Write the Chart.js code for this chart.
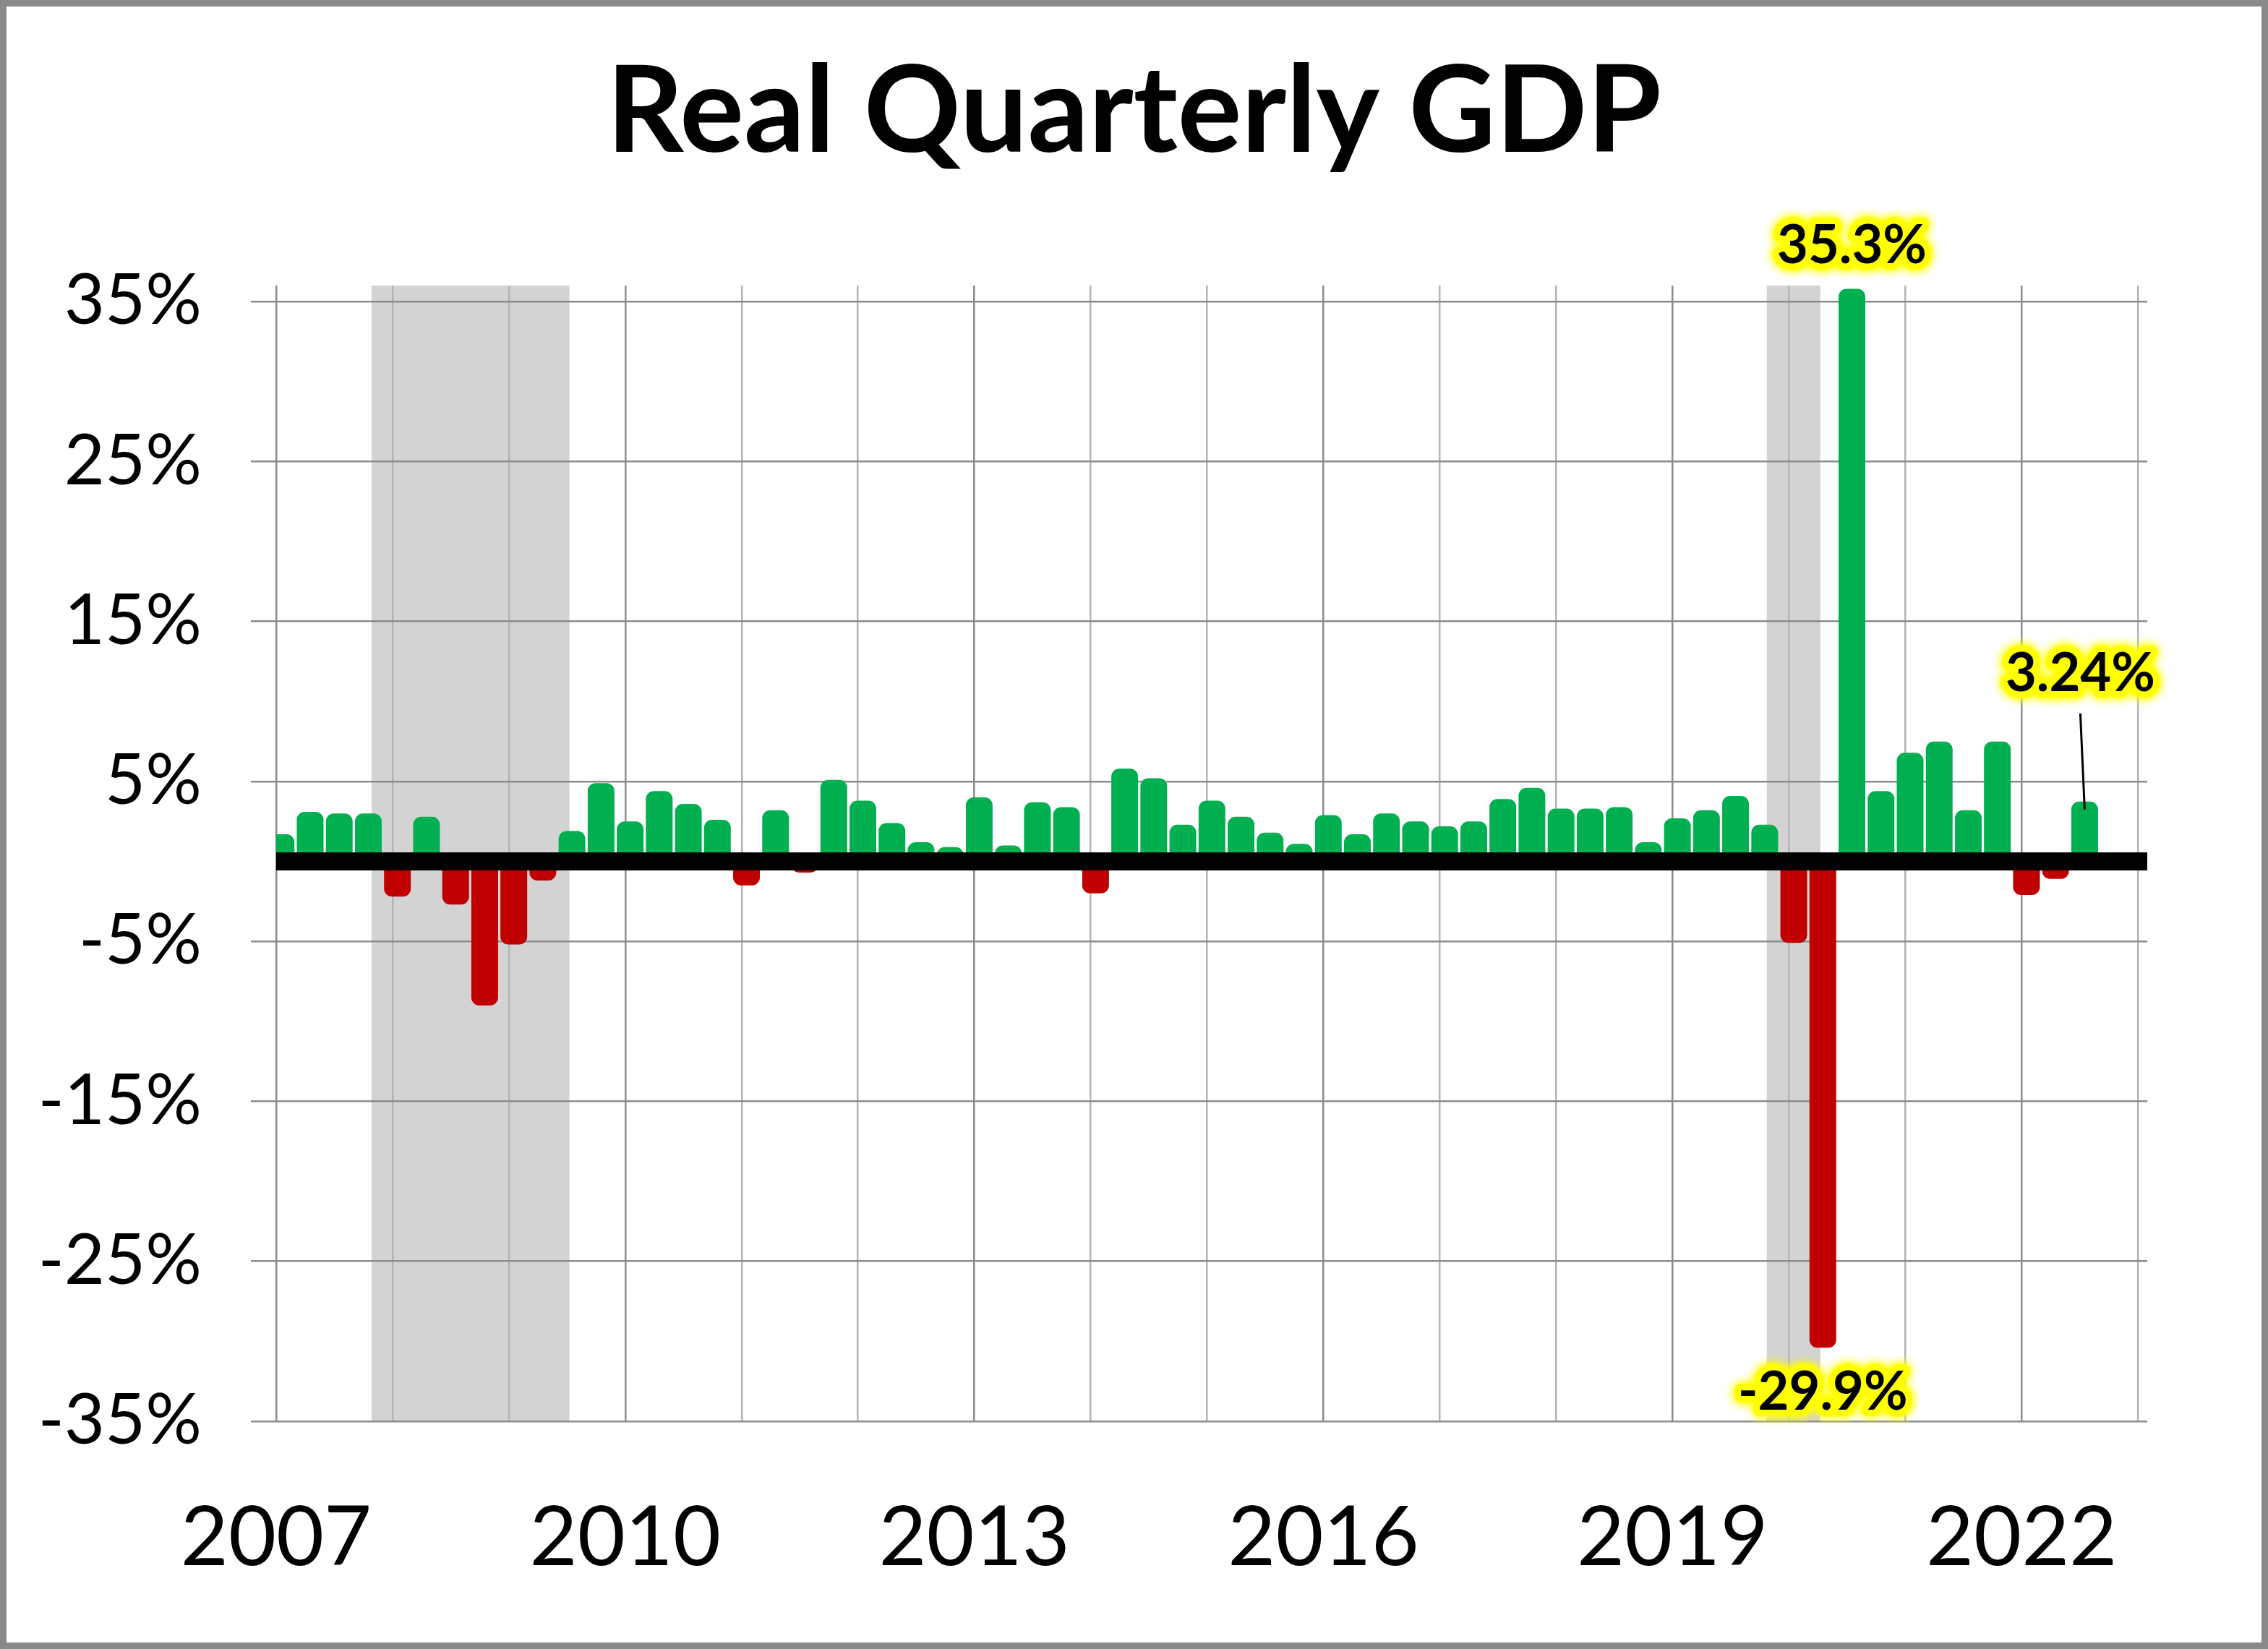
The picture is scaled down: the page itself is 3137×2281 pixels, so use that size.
<!DOCTYPE html>
<html>
<head>
<meta charset="utf-8">
<title>Real Quarterly GDP</title>
<script src="https://cdn.jsdelivr.net/npm/chart.js@4.4.1/dist/chart.umd.min.js"></script>
<style>
  html, body { margin: 0; padding: 0; background: #fff; }
  #frame { width: 3137px; height: 2281px; box-sizing: border-box; border: 9px solid #898989; background: #fff; }
  canvas { display: block; }
</style>
</head>
<body>
<div id="frame"><canvas id="gdp" width="3119" height="2263"></canvas></div>
<script>
const startYear = 2007;

// real GDP growth (annualized, %), 2007 Q1 .. 2022 Q3
const gdpGrowth = [
  1.2, 2.6, 2.5, 2.5,
  -1.7, 2.3, -2.2, -8.5,
  -4.7, -0.7, 1.4, 4.4,
  2.0, 3.9, 3.1, 2.1,
  -1.0, 2.7, -0.2, 4.6,
  3.3, 1.9, 0.7, 0.4,
  3.5, 0.5, 3.2, 2.9,
  -1.5, 5.3, 4.7, 1.8,
  3.3, 2.3, 1.3, 0.6,
  2.4, 1.2, 2.5, 2.0,
  1.7, 2.0, 3.4, 4.1,
  2.8, 2.8, 2.9, 0.7,
  2.2, 2.7, 3.6, 1.8,
  -4.6, -29.9, 35.3, 3.9,
  6.3, 7.0, 2.7, 7.0,
  -1.6, -0.6, 3.24
];

const quarters = gdpGrowth.map((v, i) => `${startYear + Math.floor(i / 4)} Q${i % 4 + 1}`);
const calloutQuarters = ['2020 Q2', '2020 Q3', '2022 Q3'];

// shaded recessions, in fractional years
const recessionStart = [2007.82, 2019.81];
const recessionEnd = [2009.52, 2020.27];

const yearTicks = [2007, 2008, 2009, 2010, 2011, 2012, 2013, 2014, 2015,
  2016, 2017, 2018, 2019, 2020, 2021, 2022, 2023];
const yearLabels = [2007, 2010, 2013, 2016, 2019, 2022];
const yTicks = [-35, -25, -15, -5, 5, 15, 25, 35];
const yMin = -35, yMax = 36;
const xMax = 2023.08;

const green = '#00b050';
const red = '#c00000';

// each bar is plotted at the middle of the first month of its quarter
const quarterX = i => startYear + i / 4 + 0.042;

const recessionShading = {
  id: 'recessionShading',
  beforeDraw(chart) {
    const { ctx, chartArea: a, scales: { x } } = chart;
    ctx.save();
    ctx.fillStyle = '#d3d3d3';
    recessionStart.forEach((s, i) => {
      const x0 = x.getPixelForValue(s);
      const x1 = x.getPixelForValue(recessionEnd[i]);
      ctx.fillRect(x0, a.top, x1 - x0, a.bottom - a.top);
    });
    ctx.restore();
  }
};

// excel style thick outline in the bar colour, round joins
const barOutline = {
  id: 'barOutline',
  afterDatasetsDraw(chart, args, opts) {
    const { ctx, chartArea: a } = chart;
    ctx.save();
    ctx.beginPath();
    ctx.rect(a.left, a.top, a.right - a.left, a.bottom - a.top);
    ctx.clip();
    ctx.lineWidth = opts.width;
    ctx.lineJoin = 'round';
    chart.getDatasetMeta(0).data.forEach(bar => {
      const top = Math.min(bar.y, bar.base);
      ctx.strokeStyle = bar.options.backgroundColor;
      ctx.strokeRect(bar.x - bar.width / 2, top, bar.width, Math.abs(bar.base - bar.y));
    });
    ctx.restore();
  }
};

const zeroLine = {
  id: 'zeroLine',
  afterDatasetsDraw(chart, args, opts) {
    const { ctx, chartArea: a, scales: { y } } = chart;
    const y0 = y.getPixelForValue(0);
    ctx.save();
    ctx.fillStyle = '#000';
    ctx.fillRect(a.left, y0 - opts.width / 2, a.right - a.left, opts.width);
    ctx.restore();
  }
};

const callouts = {
  id: 'callouts',
  afterDatasetsDraw(chart, args, opts) {
    const { ctx } = chart;
    const bars = chart.getDatasetMeta(0).data;
    ctx.save();
    ctx.font = `bold ${opts.size}px Lato`;
    ctx.textAlign = 'center';
    ctx.textBaseline = 'middle';
    opts.items.forEach(item => {
      const i = quarters.indexOf(item.quarter);
      const bar = bars[i];
      const text = gdpGrowth[i] + '%';
      const tx = bar.x + (item.dx || 0);
      const ty = bar.y + item.dy;
      if (item.leader) {
        ctx.strokeStyle = '#000';
        ctx.lineWidth = 3;
        ctx.beginPath();
        ctx.moveTo(tx, ty + item.leader);
        ctx.lineTo(bar.x, bar.y);
        ctx.stroke();
      }
      ctx.lineJoin = 'round';
      ctx.strokeStyle = '#ffff00';
      ctx.shadowColor = '#ffff00';
      ctx.shadowBlur = 14;
      ctx.lineWidth = 18;
      ctx.strokeText(text, tx, ty);
      ctx.strokeText(text, tx, ty);
      ctx.shadowBlur = 0;
      ctx.shadowColor = 'transparent';
      ctx.fillStyle = '#000';
      ctx.fillText(text, tx, ty);
    });
    ctx.restore();
  }
};

const drawChart = () => {
  Chart.defaults.font.family = 'Lato';
  Chart.defaults.color = '#000';

  new Chart(document.getElementById('gdp'), {
    type: 'bar',
    data: {
      labels: quarters,
      datasets: [{
        label: 'Real GDP',
        data: gdpGrowth.map((v, i) => ({ x: quarterX(i), y: v })),
        backgroundColor: c => (c.raw && c.raw.y < 0 ? red : green),
        borderWidth: 0,
        barThickness: 15
      }]
    },
    options: {
      responsive: false,
      animation: false,
      layout: { padding: 0 },
      plugins: {
        legend: { display: false },
        tooltip: { enabled: false },
        title: {
          display: true,
          text: 'Real Quarterly GDP',
          color: '#000',
          font: { size: 166, weight: 'bold', lineHeight: 1.2 },
          padding: { top: 48, bottom: 138.8 }
        },
        barOutline: { width: 22 },
        zeroLine: { width: 25 },
        callouts: {
          size: 74,
          items: [
            { quarter: calloutQuarters[0], dy: 73 },
            { quarter: calloutQuarters[1], dy: -70 },
            { quarter: calloutQuarters[2], dx: -6, dy: -188, leader: 55 }
          ]
        }
      },
      scales: {
        x: {
          type: 'linear',
          min: startYear,
          max: xMax,
          offset: false,
          afterBuildTicks: axis => { axis.ticks = yearTicks.map(v => ({ value: v })); },
          afterFit: axis => { axis.height = 306; },
          border: { display: false },
          grid: {
            offset: false,
            drawTicks: false,
            lineWidth: 2.5,
            color: c => (c.tick && yearLabels.includes(c.tick.value) ? '#8c8c8c' : '#b4b4b4')
          },
          ticks: {
            autoSkip: false,
            maxRotation: 0,
            padding: 94,
            font: { size: 114 },
            callback: v => (yearLabels.includes(v) ? String(v) : '')
          }
        },
        y: {
          min: yMin,
          max: yMax,
          afterBuildTicks: axis => { axis.ticks = yTicks.map(v => ({ value: v })); },
          afterFit: axis => { axis.width = 373; },
          border: { display: false },
          grid: { color: '#8c8c8c', lineWidth: 2.5, tickLength: 35 },
          ticks: {
            padding: 68,
            font: { size: 97 },
            callback: v => v + '%'
          }
        },
        // empty right margin so the title stays centred on the page
        margin: {
          type: 'linear',
          axis: 'y',
          position: 'right',
          min: yMin,
          max: yMax,
          afterFit: axis => { axis.width = 158; },
          border: { display: false },
          grid: { display: false },
          ticks: { display: false }
        }
      }
    },
    plugins: [recessionShading, barOutline, zeroLine, callouts]
  });
};

Promise.all([
  document.fonts.load('bold 166px Lato'),
  document.fonts.load('97px Lato')
]).catch(() => {}).then(drawChart);
</script>
</body>
</html>
